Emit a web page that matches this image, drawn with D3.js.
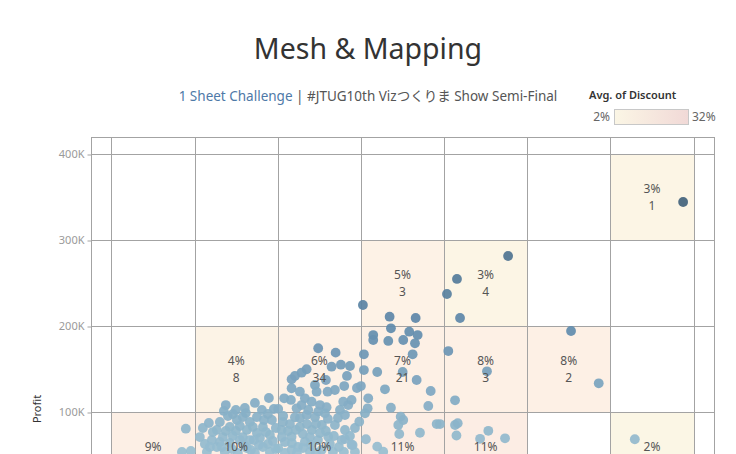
<!DOCTYPE html>
<html>
<head>
<meta charset="utf-8">
<script src="https://cdn.jsdelivr.net/npm/d3@7"></script>
<style>
  body { margin: 0; background: #fff; }
  text { font-family: "Noto Sans", "Noto Sans CJK JP", sans-serif; }
</style>
</head>
<body>
<div id="chart"></div>
<script>
/* Mesh & Mapping: Sales vs Profit scatter with a 100K mesh */

// mesh cells: lower bound of the sales bin and the profit bin (in K), avg discount, number of marks
const cellSales    = [0, 100, 200, 300, 400, 600, 100, 200, 300, 400, 500, 300, 400, 600];
const cellProfit   = [0, 0, 0, 0, 0, 0, 100, 100, 100, 100, 100, 200, 200, 300];
const cellDiscount = [0.09, 0.10, 0.10, 0.11, 0.11, 0.02, 0.04, 0.06, 0.07, 0.08, 0.08, 0.05, 0.03, 0.03];
const cellCount    = [45, 160, 120, 55, 14, 2, 8, 34, 21, 3, 2, 3, 4, 1];

const salesTicks  = [0, 100, 200, 300, 400, 500, 600, 700];
const profitTicks = [100, 200, 300, 400];

// [sales K, profit K]
const topPoints = [
    [687.5, 344.2], [477, 281.4], [415.5, 254.7], [403.5, 237.2], [419.2, 209.3],
    [302.4, 224.4], [334.5, 210.8], [365.8, 209.3]
];
const midPoints = [ // 7%, 8% cells
    [336.1, 197.3], [314.8, 189.5], [314.8, 183.7], [332.9, 182.6], [358.1, 193.4],
    [368.2, 189.5], [350.9, 183.7], [365, 179.9], [303.6, 167.1], [362.2, 167.1],
    [303.6, 148.8], [319.6, 146.5], [350.2, 146.5], [367, 137.2], [300, 130.2],
    [328.9, 126.4], [383.9, 124.4], [308.8, 115.9], [308.1, 104.3], [336.1, 105],
    [381, 107],
    [405.1, 170.9], [451.6, 147.3], [413.2, 113.6],
    [552.7, 194.2], [586, 133.4]
];
const leftPoints = [ // 4%, 6% cells
    [137.5, 108.1], [135.1, 101.2], [149.6, 102.3], [160.4, 104.7], [172.5, 110.5],
    [180.9, 102.3], [189.3, 116.3], [195.3, 103.5],
    [248.6, 174.1], [269.6, 169], [264.7, 152.7], [275.9, 155], [286.8, 153.5],
    [234.7, 149.7], [228.6, 145.7], [220.6, 141.9], [216.6, 138], [244.7, 131.4],
    [216.6, 127.6], [226.6, 123.6], [259.9, 123.6], [268.7, 125.6], [279.9, 130.2],
    [246.7, 123.6], [207.7, 115.9], [215.8, 114], [232.6, 115.9], [240.7, 112],
    [250.7, 108.1], [258.7, 105.5], [228.6, 108.1], [278.7, 112], [284.7, 108.1],
    [222.6, 104.3], [236.6, 102.3], [248.6, 100.4], [274.8, 102.3], [288.8, 114],
    [200.5, 103.6], [295.2, 127.9], [257.9, 137.2], [283.2, 141.9]
];
const lowPoints = [ // profit under 100K
    [89.4, 80.6], [84.7, 53.5], [95.4, 54.7],
    [117.1, 87.2], [106.3, 70.9], [112.3, 62.8], [126.7, 79.1], [134, 70.9],
    [142.3, 82.6], [150.8, 90.7], [158, 94.2], [166.4, 88.4], [174.9, 94.2],
    [182.1, 82.6], [192.9, 90.7], [142.3, 64], [158, 70.9], [174.9, 75.6],
    [190.5, 73.3], [126.7, 59.3], [162.8, 58.1], [182.1, 59.3], [114.7, 53.5],
    [136.3, 53.5], [152, 52.3], [172.5, 52.3], [190.5, 53.5], [120.7, 67.4],
    [149.6, 77.9], [166.4, 67.4], [140, 95.3], [130.3, 88.4], [197.7, 81.4],
    [188.1, 62.8], [109.9, 81.4],
    [121.9, 76.7], [137.5, 77.9], [145.9, 72.1], [154.4, 83.7], [162.8, 79.1],
    [170, 82.6], [178.5, 69.8], [185.7, 76.7], [194.1, 66.3], [197.7, 57],
    [130.3, 65.1], [144.8, 57], [159.2, 61.6], [167.6, 55.8], [177.3, 61.6],
    [183.3, 90.7], [188.1, 97.7], [161.6, 98.8], [146, 97.7], [132.7, 59.3],
    [118.3, 59.3], [154.4, 67.4], [171.2, 67.4],
    [206.5, 95.4], [220.6, 93.8], [234.7, 96.5], [244.7, 93.8], [256.7, 98.5],
    [268.7, 84.9], [280.8, 96.5], [260.7, 71.3], [276.8, 67.4], [288.8, 61.6],
    [232.6, 65.5], [216.6, 71.3], [204.6, 79.1], [252.7, 55.8], [216.6, 55.8],
    [200.5, 57.8], [226.6, 82.6], [241, 79.1], [253.1, 84.9], [208.6, 65.1],
    [224.2, 59.3], [238.7, 53.5], [266.3, 53.5], [280.8, 79.1], [292.8, 81.4],
    [248.3, 67.4], [214.6, 86], [230.2, 74.4],
    [206.1, 88.4], [212.2, 77.9], [221.8, 79.1], [235, 86], [245.8, 86],
    [257.9, 77.9], [267.5, 72.1], [273.5, 59.3], [262.7, 62.8], [239.8, 61.6],
    [230.2, 58.1], [217, 63.9], [205, 70.9], [208.6, 52.3], [223, 52.3],
    [245.8, 52.3], [260.3, 91.9], [272.3, 93], [238.6, 70.9], [250.7, 75.6],
    [280.8, 68.6], [226.6, 93], [286.8, 72.1], [292.8, 53.5], [279.5, 53.5],
    [304.9, 98.5], [298, 88.7], [347.8, 94.6], [350.9, 90.7], [344.9, 84.9],
    [391.1, 86], [371, 75.9], [346.1, 74.4], [306, 68.3], [290, 61.6],
    [319.6, 59.7], [326.8, 53.8], [395.1, 86],
    [413.2, 84.9], [416.4, 86.9], [414.9, 72.7], [443.3, 68.8], [453.2, 78.1],
    [473.3, 69.4],
    [629.4, 68.3]
];

const width = 736,
      height = 454;

let svg = d3.select("#chart")
    .append("svg")
    .attr("width", width)
    .attr("height", height)
    .attr("viewBox", [0, 0, width, height]);

let x = d3.scaleLinear()
    .domain([-25, 725])
    .range([90.7, 714.3]);

let y = d3.scaleLinear()
    .domain([0, 420])
    .range([498, 136.8]);

const px = v => Math.round(x(v)) + 0.5,
      py = v => Math.round(y(v)) + 0.5;

let cellColor = d3.scaleLinear()
    .domain([0.02, 0.05, 0.11, 0.32])
    .range(["#fbf6e5", "#fdf2e6", "#fcede4", "#f1d9d7"]);

let dotColor = d3.scaleLinear()
    .domain([50, 120, 200, 350])
    .range(["#98bfd1", "#80a9c3", "#5f8aac", "#41607a"]);

// title + subtitle
svg.append("text")
    .attr("x", 368)
    .attr("y", 59)
    .attr("text-anchor", "middle")
    .style("font-size", "28.5px")
    .style("fill", "#333")
    .text("Mesh & Mapping");

let sub = svg.append("text")
    .attr("x", 368)
    .attr("y", 101)
    .attr("text-anchor", "middle")
    .style("font-size", "13.5px");
sub.append("tspan").style("fill", "#4e79a7").text("1 Sheet Challenge");
sub.append("tspan").style("fill", "#555").text(" | #JTUG10th Vizつくりま Show Semi-Final");

// legend
svg.append("text")
    .attr("x", 589)
    .attr("y", 99)
    .style("font-size", "11px")
    .style("font-weight", "600")
    .style("fill", "#333")
    .text("Avg. of Discount");

let grad = svg.append("defs").append("linearGradient").attr("id", "disc");
grad.append("stop").attr("offset", "0%").attr("stop-color", cellColor(0.02));
grad.append("stop").attr("offset", "100%").attr("stop-color", cellColor(0.32));

svg.append("rect")
    .attr("x", 614.5).attr("y", 109.5)
    .attr("width", 74).attr("height", 15)
    .attr("fill", "url(#disc)")
    .attr("stroke", "#c8c8c8");

svg.append("text")
    .attr("x", 610).attr("y", 121)
    .attr("text-anchor", "end")
    .style("font-size", "12px").style("fill", "#666")
    .text("2%");
svg.append("text")
    .attr("x", 692).attr("y", 121)
    .style("font-size", "12px").style("fill", "#666")
    .text("32%");

// mesh cells
let cells = cellSales.map((s, i) => ({ s: s, p: cellProfit[i], d: cellDiscount[i], n: cellCount[i] }));

svg.append("g")
    .selectAll("rect")
    .data(cells)
    .join("rect")
    .attr("x", d => px(d.s) + 0.5)
    .attr("y", d => py(d.p + 100) + 0.5)
    .attr("width", d => px(d.s + 100) - px(d.s) - 1)
    .attr("height", d => py(d.p) - py(d.p + 100) - 1)
    .attr("fill", d => cellColor(d.d));

// grid + border
let grid = svg.append("g")
    .attr("stroke", "#a3a3a3")
    .attr("stroke-width", 1);

grid.selectAll(".v")
    .data(salesTicks)
    .join("line")
    .attr("x1", d => px(d)).attr("x2", d => px(d))
    .attr("y1", py(420)).attr("y2", height + 10);

grid.selectAll(".h")
    .data(profitTicks)
    .join("line")
    .attr("x1", px(-25)).attr("x2", px(725))
    .attr("y1", d => py(d)).attr("y2", d => py(d));

svg.append("rect")
    .attr("x", px(-25)).attr("y", py(420))
    .attr("width", px(725) - px(-25))
    .attr("height", height)
    .attr("fill", "none")
    .attr("stroke", "#a3a3a3");

// y axis
let yAxis = svg.append("g")
    .attr("transform", `translate(${px(-25)},0)`)
    .call(d3.axisLeft(y).tickValues(profitTicks).tickSize(4).tickFormat(d => d + "K"));
yAxis.select(".domain").remove();
yAxis.selectAll("line").attr("stroke", "#a3a3a3").attr("transform", "translate(0,0.5)");
yAxis.selectAll("text")
    .attr("x", -7)
    .style("font-size", "11px")
    .style("font-family", "'Noto Sans', sans-serif")
    .style("fill", "#9a9a9a");

svg.append("text")
    .attr("transform", "translate(41,409) rotate(-90)")
    .attr("text-anchor", "middle")
    .style("font-size", "11px")
    .style("fill", "#333")
    .text("Profit");

// points
let points = topPoints.concat(midPoints, leftPoints, lowPoints);

svg.append("g")
    .selectAll("circle")
    .data(points)
    .join("circle")
    .attr("cx", d => x(d[0]))
    .attr("cy", d => y(d[1]))
    .attr("r", 4.9)
    .attr("fill", d => dotColor(d[1]))
    .attr("fill-opacity", 0.92);

// cell labels
let label = svg.append("g")
    .selectAll("g")
    .data(cells)
    .join("g")
    .attr("transform", d => `translate(${(x(d.s) + x(d.s + 100)) / 2},${(y(d.p) + y(d.p + 100)) / 2})`);

label.append("text")
    .attr("y", -4)
    .attr("text-anchor", "middle")
    .style("font-size", "12px")
    .style("fill", "#555")
    .text(d => d3.format(".0%")(d.d));

label.append("text")
    .attr("y", 13)
    .attr("text-anchor", "middle")
    .style("font-size", "12px")
    .style("fill", "#555")
    .text(d => d.n);
</script>
</body>
</html>
